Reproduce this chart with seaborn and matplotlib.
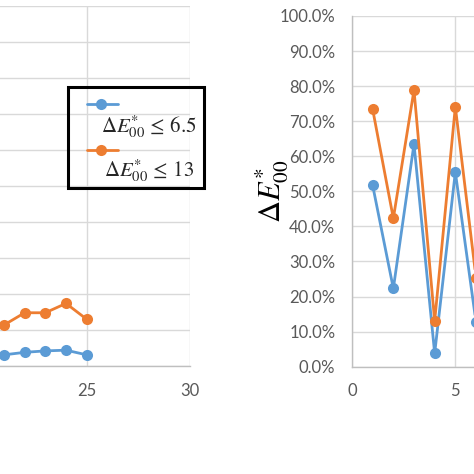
import seaborn as sns
import pandas as pd
import numpy as np
import matplotlib.pyplot as plt
from matplotlib.lines import Line2D
from matplotlib.patches import Rectangle
from matplotlib.ticker import PercentFormatter

# values (percent)
left_x = [20, 21, 22, 23, 24, 25]
left_65 = [2.8, 3.1, 3.8, 4.2, 4.4, 3.1]
left_13 = [11.0, 11.4, 14.8, 14.8, 17.4, 13.0]

right_x = [1, 2, 3, 4, 5, 6]
right_65 = [51.7, 22.3, 63.5, 3.8, 55.5, 12.7]
right_13 = [73.4, 42.3, 78.9, 13.0, 74.1, 25.4]

x_ticks = [0, 5, 10, 15, 20, 25, 30]
y_ticks = [0, 10, 20, 30, 40, 50, 60, 70, 80, 90, 100]
lab_65 = r'$\Delta E^{*}_{00}\,\leq\,6.5$'
lab_13 = r'$\Delta E^{*}_{00}\,\leq\,13$'

blue = '#5B9BD5'
orange = '#ED7D31'
grid_c = '#d9d9d9'
tick_c = '#595959'

sns.set_theme(style='whitegrid')
plt.rcParams['font.family'] = ['Lato', 'DejaVu Sans']
plt.rcParams['mathtext.fontset'] = 'stix'

W = 474.0
fig = plt.figure(figsize=(4.74, 4.74), dpi=100)
ax1 = fig.add_axes([-430 / W, 1 - 366 / W, 620 / W, (366 - 6.3) / W])
ax2 = fig.add_axes([352 / W, 1 - 366.7 / W, 620 / W, (366.7 - 16) / W])

left = pd.DataFrame({'x': left_x, 'a': left_65, 'b': left_13})
right = pd.DataFrame({'x': right_x, 'a': right_65, 'b': right_13})

for ax, df in [(ax1, left), (ax2, right)]:
    sns.lineplot(data=df, x='x', y='a', ax=ax, color=blue, marker='o',
                 markersize=8, markeredgewidth=0, linewidth=2)
    sns.lineplot(data=df, x='x', y='b', ax=ax, color=orange, marker='o',
                 markersize=8, markeredgewidth=0, linewidth=2)
    ax.set_xlim(0, 30)
    ax.set_ylim(0, 100)
    ax.set_xticks(x_ticks)
    ax.set_yticks(y_ticks)
    ax.yaxis.set_major_formatter(PercentFormatter(xmax=100, decimals=1))
    ax.grid(True, color=grid_c, linewidth=1)
    ax.set_xlabel('')
    ax.set_ylabel('')
    ax.tick_params(length=0, labelsize=12, colors=tick_c, pad=12)
    for s in ['top', 'right']:
        ax.spines[s].set_visible(False)
    for s in ['left', 'bottom']:
        ax.spines[s].set_color('#bfbfbf')
        ax.spines[s].set_linewidth(1)

# left panel is cropped: only the labels inside the picture are kept
ax1.set_xticklabels(['' if t < 25 else str(t) for t in x_ticks])
ax1.set_yticklabels([])
ax2.set_xticklabels([str(t) if t <= 5 else '' for t in x_ticks])

ax2.set_ylabel(r'$\Delta E^{*}_{00}$', fontsize=22, color='black', labelpad=-8)

# legend box drawn by hand (text sits under each swatch)
fig.add_artist(Rectangle((68 / W, 1 - 188 / W), 136 / W, 101 / W,
                         transform=fig.transFigure, fill=False,
                         edgecolor='black', linewidth=2.2))
for y_sw, y_tx, col, lab in [(104, 127, blue, lab_65), (150, 171, orange, lab_13)]:
    fig.add_artist(Line2D(np.array([87, 101, 118]) / W, [1 - y_sw / W] * 3,
                          transform=fig.transFigure, color=col, linewidth=2,
                          marker='o', markersize=8, markeredgewidth=0,
                          markevery=[1]))
    fig.text(149 / W, 1 - y_tx / W, lab, fontsize=15, ha='center', va='center')

fig.savefig('out.png', dpi=100)
